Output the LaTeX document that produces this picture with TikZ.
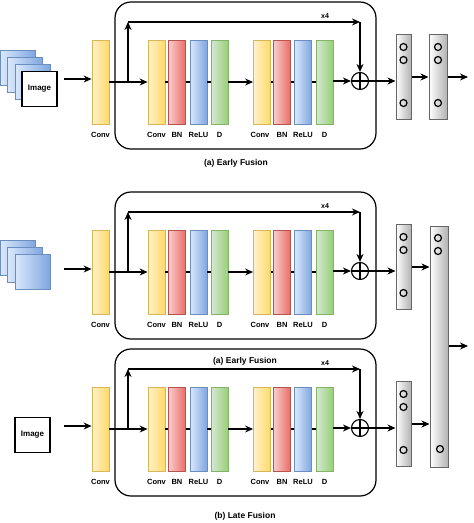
\documentclass[tikz,border=0pt]{standalone}
\usepackage{fontspec}
\setmainfont{Liberation Sans}
\usetikzlibrary{arrows.meta}
\definecolor{convlight}{HTML}{FFF2CC}
\definecolor{convdark}{HTML}{FFD966}
\definecolor{convline}{HTML}{D6B656}
\definecolor{bnlight}{HTML}{F8CECC}
\definecolor{bndark}{HTML}{EA6B66}
\definecolor{bnline}{HTML}{B85450}
\definecolor{relulight}{HTML}{DAE8FC}
\definecolor{reludark}{HTML}{7EA6E0}
\definecolor{reluline}{HTML}{6C8EBF}
\definecolor{droplight}{HTML}{D5E8D4}
\definecolor{dropdark}{HTML}{97D077}
\definecolor{dropline}{HTML}{82B366}
\begin{document}
\begin{tikzpicture}[x=1pt,y=-1pt,line width=1.1pt,>={Stealth[length=8pt,width=7pt]},font=\bfseries\fontsize{7.5}{8}\selectfont]
		\tikzstyle{layer}=[draw,line width=0.8pt,minimum width=17pt,minimum height=84pt,inner sep=0pt]
		\tikzstyle{conv}=[layer,draw=convline,left color=convlight,right color=convdark]
		\tikzstyle{bn}=[layer,draw=bnline,left color=bnlight,right color=bndark]
		\tikzstyle{relu}=[layer,draw=reluline,left color=relulight,right color=reludark]
		\tikzstyle{drop}=[layer,draw=dropline,left color=droplight,right color=dropdark]
		\tikzstyle{fc}=[draw=black!60,line width=1pt,left color=white,right color=black!30,minimum width=15pt,minimum height=85pt,inner sep=0pt]
		\tikzstyle{unit}=[draw,circle,line width=1.2pt,minimum size=7pt,inner sep=0pt]
		\tikzstyle{img}=[draw=reluline,line width=0.8pt,left color=relulight,right color=reludark,minimum size=35pt,inner sep=0pt]
		\tikzstyle{block}=[draw,line width=1.2pt,rounded corners=16pt,minimum width=261pt,minimum height=147pt]
		\useasboundingbox (0,0) rectangle (474,523);

		% inputs
		\node[img](ia1) at (18,67.5){};
		\node[img](ia2) at (25,74.5){};
		\node[img](ia3) at (32.5,82){};
		\node[draw,fill=white,line width=1.2pt,minimum size=35pt,inner sep=0pt,font=\bfseries\fontsize{8}{9}\selectfont](ia4) at (39.5,89){Image};
		\node[img](ib1) at (18,258){};
		\node[img](ib2) at (25,265){};
		\node[img](ib3) at (32.5,272){};
		\node[draw,fill=white,line width=1.2pt,minimum size=35pt,inner sep=0pt,font=\bfseries\fontsize{8}{9}\selectfont](ic1) at (32.5,435){Image};
		\coordinate (ina) at (64,79);
		\coordinate (inb) at (64,269);
		\coordinate (inc) at (64,426);

		% residual branches
		\foreach \r/\y in {a/82,b/272,c/429}{
			\node[block](box\r) at (245.5,\y-6.5){};
			\node[conv](conv0\r) at (100.5,\y){};
			\node[conv](conv1\r) at (156.5,\y){};
			\node[bn](bn1\r) at (177,\y){};
			\node[relu](relu1\r) at (198.5,\y){};
			\node[drop](drop1\r) at (219.5,\y){};
			\node[conv](conv2\r) at (262,\y){};
			\node[bn](bn2\r) at (282,\y){};
			\node[relu](relu2\r) at (303,\y){};
			\node[drop](drop2\r) at (324.5,\y){};
			\node[draw,circle,minimum size=17pt,inner sep=0pt](sum\r) at (360,\y-1){};
			\draw (sum\r.north) -- (sum\r.south) (sum\r.west) -- (sum\r.east);
			\node[fc](fc\r) at (403.5,\y-5){};
			\node[unit](u1\r) at (403.5,\y-35){};
			\node[unit](u2\r) at (403.5,\y-22){};
			\node[unit](u3\r) at (403.5,\y+21){};

			\node[below=4pt](l0\r) at (conv0\r.south){Conv};
			\node[below=4pt](l1\r) at (conv1\r.south){Conv};
			\node[below=4pt](l2\r) at (bn1\r.south){BN};
			\node[below=4pt](l3\r) at (relu1\r.south){ReLU};
			\node[below=4pt](l4\r) at (drop1\r.south){D};
			\node[below=4pt,xshift=-2pt](l5\r) at (conv2\r.south){Conv};
			\node[below=4pt](l6\r) at (bn2\r.south){BN};
			\node[below=4pt](l7\r) at (relu2\r.south){ReLU};
			\node[below=4pt](l8\r) at (drop2\r.south){D};
			\node[font=\bfseries\fontsize{7}{8}\selectfont](x\r) at (325,\y-66){x4};

			\coordinate (br\r) at (128,\y);
			\coordinate (up\r) at (128,\y-60);
			\coordinate (rt\r) at (360,\y-60);

			\draw[->] (in\r) -- (in\r -| conv0\r.west);
			\draw[->] (conv0\r) -- (conv1\r);
			\draw (conv1\r) -- (bn1\r) -- (relu1\r) -- (drop1\r);
			\draw[->] (drop1\r) -- (conv2\r);
			\draw (conv2\r) -- (bn2\r) -- (relu2\r) -- (drop2\r);
			\draw[->] (drop2\r.east |- sum\r) -- (sum\r);
			\draw[->] (br\r) -- (up\r);
			\draw[->] (up\r) -- (rt\r);
			\draw[->] (rt\r) -- (sum\r);
			\draw[->] (sum\r) -- (sum\r -| fc\r.west);
		}

		% heads
		\node[fc,minimum width=18pt](fc2a) at (438,77){};
		\node[unit](v1a) at (438,47){};
		\node[unit](v2a) at (438,60){};
		\node[unit](v3a) at (438,103){};
		\node[fc,minimum width=18pt,minimum height=241pt](late) at (439,346.5){};
		\node[unit](v1b) at (438,238){};
		\node[unit](v2b) at (438,251){};
		\node[unit](v3b) at (440,449){};
		\coordinate (outa) at (468,77);
		\coordinate (outb) at (468,346);

		\draw[->] (fca) -- (fc2a);
		\draw[->] (fc2a) -- (outa);
		\draw[->] (fcb.east) -- (fcb.east -| late.west);
		\draw[->] (fcc.east) -- (fcc.east -| late.west);
		\draw[->] (late.east |- outb) -- (outb);

		\node[font=\bfseries\fontsize{8.5}{9}\selectfont](capa) at (236,163){(a) Early Fusion};
		\node[font=\bfseries\fontsize{8.5}{9}\selectfont](capb) at (245,361){(a) Early Fusion};
		\node[font=\bfseries\fontsize{8.5}{9}\selectfont](capc) at (245,516){(b) Late Fusion};
	\end{tikzpicture}
\end{document}
